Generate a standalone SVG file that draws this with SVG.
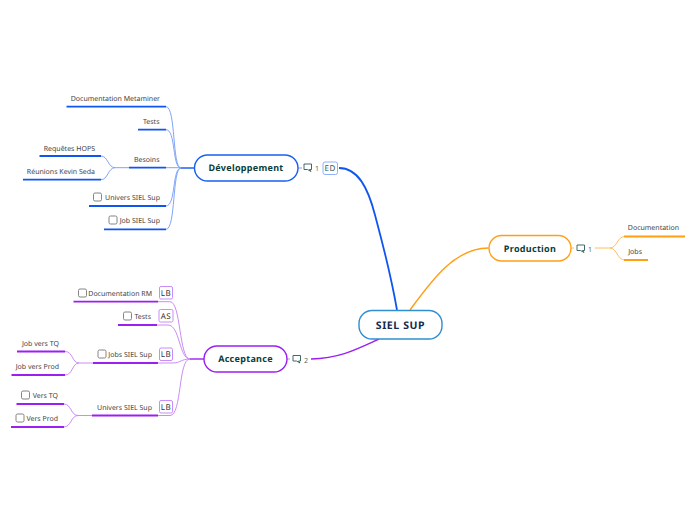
<svg xmlns="http://www.w3.org/2000/svg" width="696" height="520" viewBox="0 0 696 520">
<style>
text{font-family:"Noto Sans","Open Sans",sans-serif;text-rendering:geometricPrecision}
.l{font-size:7px;fill:#444;text-anchor:end}
.n{font-size:9px;font-weight:700;fill:#0b3d3a;text-anchor:middle;letter-spacing:.3px}
.c{font-size:7px;fill:#4a706b}
.t{font-size:8px;fill:#333;text-anchor:middle;letter-spacing:.6px}
.box{fill:#fff;stroke-width:1.4}
.tag{fill:#fff;stroke:#cb8cf7;stroke-width:1}
.cb{fill:#fff;stroke:#777;stroke-width:.9}
.bubble{fill:none;stroke:#2c5a55;stroke-width:.9}
.u{fill:none;stroke-width:1.8}
.f{fill:none;stroke-width:1}
.blue{stroke:#0f56f0}.lblue{stroke:#7fa5f8}
.pur{stroke:#9b1ff0}.lpur{stroke:#cb8cf7}
.or{stroke:#ff9f14}.lor{stroke:#ffbe5c}
</style>
<defs>
<path id="b" class="bubble" d="M1 0.500h7.500v5.500h-2l1.500 2l-3.500-2h-3.500z"/>
</defs>
<g id="connectors">
<path class="blue" fill="none" stroke-width="1.800" d="M397 310C390 270 383 245 375 215C368 188 358 168 339 168"/>
<path class="or" fill="none" stroke-width="1.500" d="M410 310C432 280 455 248 488.500 248"/>
<path class="pur" fill="none" stroke-width="1.400" d="M379 339C355 350 340 358 311 359"/>
<path class="lblue f" d="M298 168h4M333 168h4"/>
<path class="lpur f" d="M287 359h3"/>
<path class="lor f" d="M571 248h3"/>
<path class="blue" fill="none" stroke-width="1.400" d="M180 168h14"/>
<path class="lblue f" d="M166 106.700C176 106.700 172 168 181 168"/>
<path class="lblue f" d="M166 129.700C176 129.700 172 168 181 168"/>
<path class="lblue f" d="M166 167.700H181"/>
<path class="lblue f" d="M166 206C176 206 172 168 181 168"/>
<path class="lblue f" d="M166 229.300C176 229.300 172 168 181 168"/>
<path class="lblue f" d="M101 156C108 156 108 167.700 115 167.700C108 167.700 108 179.700 101 179.700M115 167.700H129"/>
<path class="blue u" d="M66.500 106.700H166M138 129.700H166M129 167.700H166M39.500 156H101M23 179.700H101M89 206H166M104 229.300H166"/>
<path class="pur" fill="none" stroke-width="1.400" d="M190 359h14"/>
<path class="lpur f" d="M158 301.700H170C181 301.700 179 359 190 359"/>
<path class="lpur f" d="M157 325H168C180 325 179 359 190 359"/>
<path class="lpur f" d="M158 363H172C181 363 181 359 190 359"/>
<path class="lpur f" d="M158 415.500H170C182 415.500 178 359 190 359"/>
<path class="lpur f" d="M65 351.500C73 351.500 72 363 79 363C72 363 73 375 65 375M79 363H93"/>
<path class="lpur f" d="M64 404C71 404 71 415.500 78 415.500C71 415.500 71 427 64 427M78 415.500H92"/>
<path class="pur u" d="M73.500 301.700H158M118 325H157M93 363H158M17 351.500H65M11.500 375H65M92 415.500H158M16.500 404H64M11 427H64"/>
<path class="lor f" d="M595 248H610C617 248 617 236.500 625 236.500M610 248C617 248 617 260 625 260"/>
<path class="or u" d="M624 236.500H685M624 260H648"/>
</g>
<g id="siel-sup"><rect class="box" x="359" y="310.500" width="83" height="28.500" rx="13" stroke="#2f8fd0"/><text x="400.500" y="329" font-size="10.500" font-weight="700" fill="#13294f" text-anchor="middle" letter-spacing=".6">SIEL SUP</text></g>
<g id="developpement"><rect class="box" x="194.500" y="155" width="103.500" height="26" rx="13" stroke="#1a5ff0"/><text class="n" x="246" y="171">Développement</text><use href="#b" x="303" y="163.500"/><text class="c" x="315" y="171">1</text><rect x="323" y="162" width="14.500" height="12.500" rx="2" fill="#fff" stroke="#8fb0fa" stroke-width="1"/><text class="t" x="330.200" y="171.300" style="fill:#2c5a55">ED</text></g>
<g id="production"><rect class="box" x="489" y="235.500" width="82" height="25.500" rx="12.500" stroke="#ff9f14"/><text class="n" x="530" y="251.500">Production</text><use href="#b" x="576" y="244.500"/><text class="c" x="588" y="252">1</text></g>
<g id="acceptance"><rect class="box" x="204" y="346" width="83" height="26" rx="13" stroke="#9b1ff0"/><text class="n" x="245.500" y="362">Acceptance</text><use href="#b" x="292" y="355"/><text class="c" x="304" y="362.500">2</text></g>
<g id="doc-metaminer"><text class="l" x="160" y="101">Documentation Metaminer</text></g>
<g id="tests-dev"><text class="l" x="159.500" y="124">Tests</text></g>
<g id="besoins"><text class="l" x="159.500" y="162">Besoins</text></g>
<g id="requetes"><text class="l" x="95" y="150.500">Requêtes  HOPS</text></g>
<g id="reunions"><text class="l" x="95" y="174">Réunions Kevin Seda</text></g>
<g id="univers-dev"><rect class="cb" x="93.500" y="193" width="8" height="8" rx="1.500"/><text class="l" x="160" y="200">Univers  SIEL Sup</text></g>
<g id="job-dev"><rect class="cb" x="109" y="216" width="8" height="8" rx="1.500"/><text class="l" x="160" y="223">Job SIEL Sup</text></g>
<g id="production-doc"><text class="l" x="679" y="230">Documentation</text></g>
<g id="production-jobs"><text class="l" x="642" y="254">Jobs</text></g>
<g id="doc-rm"><rect class="cb" x="78.500" y="289" width="8" height="8" rx="1.500"/><text class="l" x="152" y="296">Documentation RM</text><rect class="tag" x="159.500" y="286.500" width="13" height="12.500" rx="1.500"/><text class="t" x="166" y="295.800">LB</text></g>
<g id="tests-acc"><rect class="cb" x="123.500" y="312" width="8" height="8" rx="1.500"/><text class="l" x="151" y="319">Tests</text><rect class="tag" x="159" y="309.500" width="14" height="12.500" rx="1.500"/><text class="t" x="166" y="318.800">AS</text></g>
<g id="jobs-siel"><rect class="cb" x="98" y="350" width="8" height="8" rx="1.500"/><text class="l" x="152" y="357">Jobs SIEL Sup</text><rect class="tag" x="159.500" y="348" width="13" height="12.500" rx="1.500"/><text class="t" x="166" y="357.300">LB</text></g>
<g id="job-tq"><text class="l" x="59" y="345.500">Job vers TQ</text></g>
<g id="job-prod"><text class="l" x="59" y="369">Job vers Prod</text></g>
<g id="univers-acc"><text class="l" x="152" y="410">Univers SIEL Sup</text><rect class="tag" x="159.500" y="400.500" width="13" height="12.500" rx="1.500"/><text class="t" x="166" y="409.800">LB</text></g>
<g id="vers-tq"><rect class="cb" x="21.500" y="391" width="8" height="8" rx="1.500"/><text class="l" x="58" y="398">Vers TQ</text></g>
<g id="vers-prod"><rect class="cb" x="16" y="414" width="8" height="8" rx="1.500"/><text class="l" x="58" y="421">Vers Prod</text></g>
</svg>
